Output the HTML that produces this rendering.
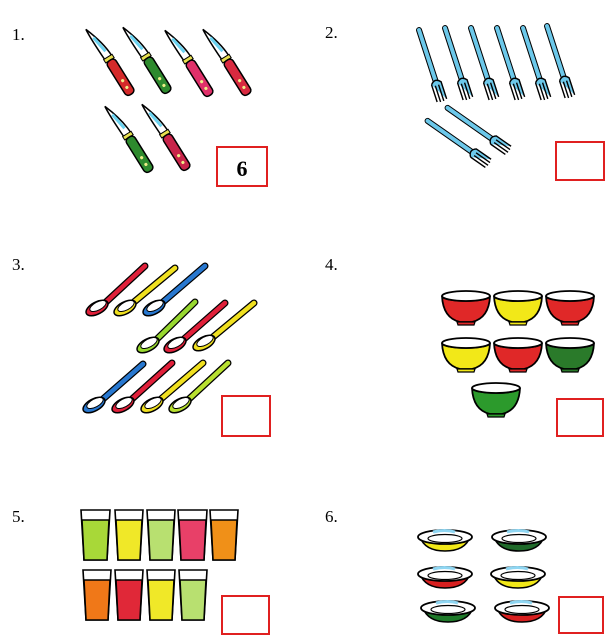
<!DOCTYPE html>
<html><head><meta charset="utf-8"><style>
html,body{margin:0;padding:0;background:#fff;width:610px;height:639px;overflow:hidden}
svg{display:block}
text{font-family:"Liberation Serif",serif;font-size:17px;fill:#000}
</style></head><body>
<svg width="610" height="639" viewBox="0 0 610 639" xmlns="http://www.w3.org/2000/svg">
<defs>
<g id="knife">
  <path d="M-4,-41 Q-5,-30 -4,-5 L4,-5 Q4,-20 -4,-41Z" fill="#fff" stroke="#000" stroke-width="1.5"/>
  <path d="M-2,-30 L1,-12" stroke="#6cd3f0" stroke-width="3"/>
  <rect x="-5" y="-6" width="10" height="4" fill="#e8e050" stroke="#000" stroke-width="1"/>
  <rect x="-5" y="-2" width="10" height="40" rx="4" fill="currentColor" stroke="#000" stroke-width="1.5"/>
  <circle cx="0" cy="22" r="1.6" fill="#ee8"/><circle cx="0" cy="30" r="1.6" fill="#ee8"/>
</g>
<g id="fork">
  <path d="M0,-42 L0,14" stroke="#000" stroke-width="6" stroke-linecap="round"/>
  <path d="M0,-42 L0,14" stroke="#6cc8ea" stroke-width="4" stroke-linecap="round"/>
  <path d="M-5,14 Q0,8 5,14 L5,32 M-5,14 L-5,32 M-1.7,16 L-1.7,33 M1.7,16 L1.7,33" stroke="#000" stroke-width="1.4" fill="#6cc8ea"/>
</g>
<g id="bowl">
  <path d="M-24,0 A24,5 0 0 0 24,0 Q23,22 6,26 L-6,26 Q-23,22 -24,0Z" fill="currentColor" stroke="#000" stroke-width="1.8"/>
  <ellipse cx="0" cy="0" rx="24" ry="5" fill="#fff" stroke="#000" stroke-width="1.8"/>
  <path d="M-9,26 L9,26 L8,29 L-8,29Z" fill="currentColor" stroke="#000" stroke-width="1.2"/>
</g>
<g id="plate">
  <path d="M-25,0 Q-20,14 0,14 Q20,14 25,0Z" fill="currentColor" stroke="#000" stroke-width="1.6"/>
  <ellipse cx="0" cy="0" rx="27" ry="7" fill="#fff" stroke="#000" stroke-width="1.8"/>
  <ellipse cx="0" cy="1.5" rx="17" ry="4" fill="#fff" stroke="#000" stroke-width="1.2"/>
  <path d="M-12,-5 Q0,-8 10,-5" stroke="#8fd6f2" stroke-width="3" fill="none"/>
</g>
</defs>

<text x="12" y="40">1.</text>
<text x="325" y="38">2.</text>
<text x="12" y="270">3.</text>
<text x="325" y="270">4.</text>
<text x="12" y="522">5.</text>
<text x="325" y="522">6.</text>

<g transform="translate(111,62) rotate(-32)" color="#d42a2a"><use href="#knife"/></g>
<g transform="translate(148,60) rotate(-32)" color="#2e8a2e"><use href="#knife"/></g>
<g transform="translate(190,63) rotate(-32)" color="#e0306a"><use href="#knife"/></g>
<g transform="translate(228,62) rotate(-32)" color="#d82a40"><use href="#knife"/></g>
<g transform="translate(130,139) rotate(-32)" color="#2e8a2e"><use href="#knife"/></g>
<g transform="translate(167,137) rotate(-32)" color="#c8244a"><use href="#knife"/></g>
<rect x="217" y="147" width="50" height="39" fill="none" stroke="#e02020" stroke-width="2"/>
<text x="242" y="176" text-anchor="middle" style="font-size:22px;font-weight:bold">6</text>

<g transform="translate(432,70) rotate(-18)"><use href="#fork"/></g>
<g transform="translate(458,68) rotate(-18)"><use href="#fork"/></g>
<g transform="translate(484,68) rotate(-18)"><use href="#fork"/></g>
<g transform="translate(510,68) rotate(-18)"><use href="#fork"/></g>
<g transform="translate(536,68) rotate(-18)"><use href="#fork"/></g>
<g transform="translate(560,66) rotate(-18)"><use href="#fork"/></g>
<g transform="translate(462,145) rotate(-55)"><use href="#fork"/></g>
<g transform="translate(482,132) rotate(-55)"><use href="#fork"/></g>
<rect x="556" y="142" width="48" height="38" fill="none" stroke="#e02020" stroke-width="2"/>

<g stroke-linecap="round" fill="none">
<g stroke="#000" stroke-width="7">
<path d="M106,302 L145,266"/><path d="M134,302 L175,268"/><path d="M163,302 L205,266"/>
<path d="M157,339 L195,302"/><path d="M184,339 L225,303"/><path d="M213,337 L254,303"/>
<path d="M103,399 L143,364"/><path d="M132,399 L172,363"/><path d="M161,399 L203,363"/><path d="M189,399 L228,363"/>
</g>
<g stroke-width="4.5">
<path d="M106,302 L145,266" stroke="#e0203a"/><path d="M134,302 L175,268" stroke="#f0e020"/><path d="M163,302 L205,266" stroke="#2878d0"/>
<path d="M157,339 L195,302" stroke="#98d830"/><path d="M184,339 L225,303" stroke="#e0203a"/><path d="M213,337 L254,303" stroke="#f0e020"/>
<path d="M103,399 L143,364" stroke="#2878d0"/><path d="M132,399 L172,363" stroke="#e0203a"/><path d="M161,399 L203,363" stroke="#f0e020"/><path d="M189,399 L228,363" stroke="#b8e030"/>
</g>
</g>
<g stroke-width="1.5" stroke="#000">
<ellipse cx="97" cy="308" rx="12" ry="6" transform="rotate(-28 97 308)" fill="#e0203a"/>
<ellipse cx="125" cy="308" rx="12" ry="6" transform="rotate(-28 125 308)" fill="#f0e020"/>
<ellipse cx="154" cy="308" rx="12" ry="6" transform="rotate(-28 154 308)" fill="#2878d0"/>
<ellipse cx="148" cy="345" rx="12" ry="6" transform="rotate(-28 148 345)" fill="#98d830"/>
<ellipse cx="175" cy="345" rx="12" ry="6" transform="rotate(-28 175 345)" fill="#e0203a"/>
<ellipse cx="204" cy="343" rx="12" ry="6" transform="rotate(-28 204 343)" fill="#f0e020"/>
<ellipse cx="94" cy="405" rx="12" ry="6" transform="rotate(-28 94 405)" fill="#2878d0"/>
<ellipse cx="123" cy="405" rx="12" ry="6" transform="rotate(-28 123 405)" fill="#e0203a"/>
<ellipse cx="152" cy="405" rx="12" ry="6" transform="rotate(-28 152 405)" fill="#f0e020"/>
<ellipse cx="180" cy="405" rx="12" ry="6" transform="rotate(-28 180 405)" fill="#b8e030"/>
</g>
<g fill="#fff" stroke="#000" stroke-width="1">
<ellipse cx="98" cy="306" rx="9" ry="4" transform="rotate(-28 98 306)"/>
<ellipse cx="126" cy="306" rx="9" ry="4" transform="rotate(-28 126 306)"/>
<ellipse cx="155" cy="306" rx="9" ry="4" transform="rotate(-28 155 306)"/>
<ellipse cx="149" cy="343" rx="9" ry="4" transform="rotate(-28 149 343)"/>
<ellipse cx="176" cy="343" rx="9" ry="4" transform="rotate(-28 176 343)"/>
<ellipse cx="205" cy="341" rx="9" ry="4" transform="rotate(-28 205 341)"/>
<ellipse cx="95" cy="403" rx="9" ry="4" transform="rotate(-28 95 403)"/>
<ellipse cx="124" cy="403" rx="9" ry="4" transform="rotate(-28 124 403)"/>
<ellipse cx="153" cy="403" rx="9" ry="4" transform="rotate(-28 153 403)"/>
<ellipse cx="181" cy="403" rx="9" ry="4" transform="rotate(-28 181 403)"/>
</g>
<rect x="222" y="396" width="48" height="40" fill="none" stroke="#e02020" stroke-width="2"/>

<g transform="translate(466,296)" color="#e02828"><use href="#bowl"/></g>
<g transform="translate(518,296)" color="#f2e818"><use href="#bowl"/></g>
<g transform="translate(570,296)" color="#e02828"><use href="#bowl"/></g>
<g transform="translate(466,343)" color="#f2e818"><use href="#bowl"/></g>
<g transform="translate(518,343)" color="#e02828"><use href="#bowl"/></g>
<g transform="translate(570,343)" color="#2a7a2a"><use href="#bowl"/></g>
<g transform="translate(496,388)" color="#2c9a2c"><use href="#bowl"/></g>
<rect x="557" y="399" width="46" height="37" fill="none" stroke="#e02020" stroke-width="2"/>

<g stroke="#000" stroke-width="1.6">
<path d="M81,510 L110,510 L107,560 L84,560Z" fill="#fff"/><path d="M82,520 L109,520 L107,560 L84,560Z" fill="#a8d838"/>
<path d="M115,510 L143,510 L140,560 L118,560Z" fill="#fff"/><path d="M116,520 L142,520 L140,560 L118,560Z" fill="#f0e828"/>
<path d="M147,510 L175,510 L172,560 L150,560Z" fill="#fff"/><path d="M148,520 L174,520 L172,560 L150,560Z" fill="#b8e070"/>
<path d="M178,510 L207,510 L204,560 L181,560Z" fill="#fff"/><path d="M179,520 L206,520 L204,560 L181,560Z" fill="#e84068"/>
<path d="M210,510 L238,510 L235,560 L213,560Z" fill="#fff"/><path d="M211,520 L237,520 L235,560 L213,560Z" fill="#f09018"/>
<path d="M83,570 L111,570 L108,620 L86,620Z" fill="#fff"/><path d="M84,580 L110,580 L108,620 L86,620Z" fill="#f07818"/>
<path d="M115,570 L143,570 L140,620 L118,620Z" fill="#fff"/><path d="M116,580 L142,580 L140,620 L118,620Z" fill="#e02838"/>
<path d="M147,570 L175,570 L172,620 L150,620Z" fill="#fff"/><path d="M148,580 L174,580 L172,620 L150,620Z" fill="#f0e828"/>
<path d="M179,570 L207,570 L204,620 L182,620Z" fill="#fff"/><path d="M180,580 L206,580 L204,620 L182,620Z" fill="#b8e070"/>
</g>
<rect x="222" y="596" width="47" height="38" fill="none" stroke="#e02020" stroke-width="2"/>

<g transform="translate(445,537)" color="#f2e818"><use href="#plate"/></g>
<g transform="translate(519,537)" color="#1f6a2a"><use href="#plate"/></g>
<g transform="translate(445,574)" color="#d82020"><use href="#plate"/></g>
<g transform="translate(518,574)" color="#f2e818"><use href="#plate"/></g>
<g transform="translate(448,608)" color="#1f7a2a"><use href="#plate"/></g>
<g transform="translate(522,608)" color="#d82020"><use href="#plate"/></g>
<rect x="559" y="597" width="44" height="36" fill="none" stroke="#e02020" stroke-width="2"/>
</svg>
</body></html>
